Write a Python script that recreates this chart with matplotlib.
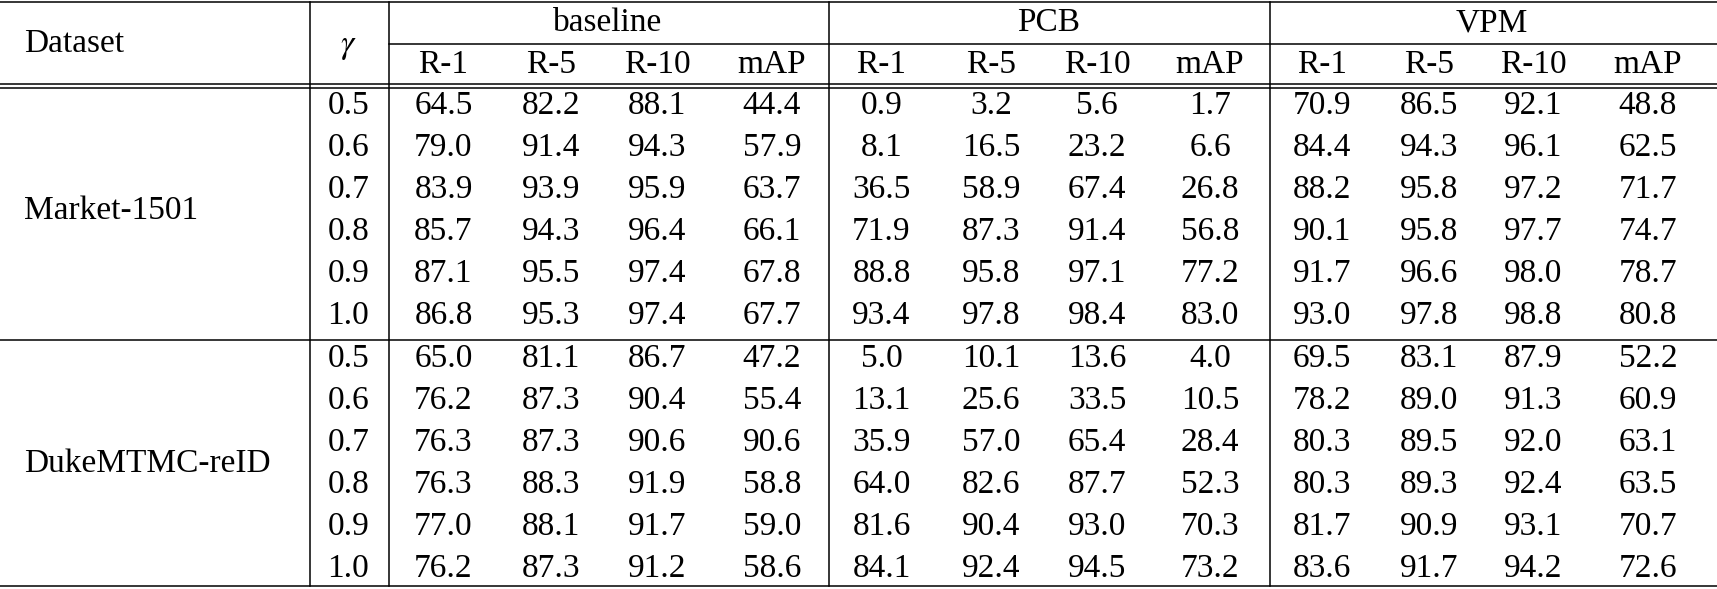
import matplotlib.pyplot as plt

datasets = ["Market-1501", "DukeMTMC-reID"]
gammas = ["0.5", "0.6", "0.7", "0.8", "0.9", "1.0"]
groups = ["baseline", "PCB", "VPM"]
metrics = ["R-1", "R-5", "R-10", "mAP"]

market = [
    ["64.5", "82.2", "88.1", "44.4", "0.9", "3.2", "5.6", "1.7", "70.9", "86.5", "92.1", "48.8"],
    ["79.0", "91.4", "94.3", "57.9", "8.1", "16.5", "23.2", "6.6", "84.4", "94.3", "96.1", "62.5"],
    ["83.9", "93.9", "95.9", "63.7", "36.5", "58.9", "67.4", "26.8", "88.2", "95.8", "97.2", "71.7"],
    ["85.7", "94.3", "96.4", "66.1", "71.9", "87.3", "91.4", "56.8", "90.1", "95.8", "97.7", "74.7"],
    ["87.1", "95.5", "97.4", "67.8", "88.8", "95.8", "97.1", "77.2", "91.7", "96.6", "98.0", "78.7"],
    ["86.8", "95.3", "97.4", "67.7", "93.4", "97.8", "98.4", "83.0", "93.0", "97.8", "98.8", "80.8"],
]
duke = [
    ["65.0", "81.1", "86.7", "47.2", "5.0", "10.1", "13.6", "4.0", "69.5", "83.1", "87.9", "52.2"],
    ["76.2", "87.3", "90.4", "55.4", "13.1", "25.6", "33.5", "10.5", "78.2", "89.0", "91.3", "60.9"],
    ["76.3", "87.3", "90.6", "90.6", "35.9", "57.0", "65.4", "28.4", "80.3", "89.5", "92.0", "63.1"],
    ["76.3", "88.3", "91.9", "58.8", "64.0", "82.6", "87.7", "52.3", "80.3", "89.3", "92.4", "63.5"],
    ["77.0", "88.1", "91.7", "59.0", "81.6", "90.4", "93.0", "70.3", "81.7", "90.9", "93.1", "70.7"],
    ["76.2", "87.3", "91.2", "58.6", "84.1", "92.4", "94.5", "73.2", "83.6", "91.7", "94.2", "72.6"],
]
blocks = [market, duke]

W, H = 1568, 538
fig = plt.figure(figsize=(17.17, 5.89), dpi=100)
ax = fig.add_axes([0, 0, 1, 1])
ax.set_xlim(0, W)
ax.set_ylim(H, 0)
ax.axis("off")

FONT = dict(family="Liberation Serif", fontsize=24, color="black")
LW = 1.1

col_x = [405, 503, 600, 705, 805, 905, 1002, 1105, 1207, 1305, 1400, 1505]
group_x = [555, 958, 1362]
gamma_x = 318
row_h = 38.4
first_row = [96.5, 327.5]

# lines
ax.plot([0, W], [2, 2], color="black", lw=LW)
ax.plot([355, W], [40, 40], color="black", lw=LW)
ax.plot([0, W], [77, 77], color="black", lw=LW)
ax.plot([0, W], [80.5, 80.5], color="black", lw=LW)
ax.plot([0, W], [311, 311], color="black", lw=LW)
ax.plot([0, W], [535, 535], color="black", lw=LW)
for vx in [283, 355, 757, 1160]:
    ax.plot([vx, vx], [2, 535], color="black", lw=LW)

# header
ax.text(22, 40, "Dataset", ha="left", va="center", **FONT)
ax.text(gamma_x, 42, r"$\gamma$", ha="center", va="center", fontsize=24, math_fontfamily="stix")
for gx, g in zip(group_x, groups):
    ax.text(gx, 21, g, ha="center", va="center", **FONT)
for i, cx in enumerate(col_x):
    ax.text(cx, 59, metrics[i % 4], ha="center", va="center", **FONT)

# body
for b, (name, rows) in enumerate(zip(datasets, blocks)):
    y0 = first_row[b]
    ax.text(22, y0 + 2.5 * row_h, name, ha="left", va="center", **FONT)
    for r, (gm, vals) in enumerate(zip(gammas, rows)):
        y = y0 + r * row_h
        ax.text(gamma_x, y, gm, ha="center", va="center", **FONT)
        for cx, v in zip(col_x, vals):
            ax.text(cx, y, v, ha="center", va="center", **FONT)

fig.savefig("out.png", dpi=100, facecolor="white")
